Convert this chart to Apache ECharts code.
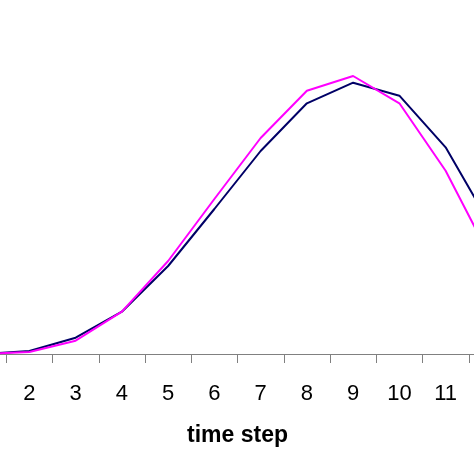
<!DOCTYPE html>
<html>
<head>
<meta charset="utf-8">
<script src="https://cdn.jsdelivr.net/npm/echarts@6/dist/echarts.min.js"></script>
<style>
html,body{margin:0;padding:0;background:#fff;overflow:hidden;width:474px;height:474px;}
#wrap{position:relative;width:474px;height:474px;overflow:hidden;}
#c{position:absolute;left:-40px;top:0;width:555px;height:474px;}
</style>
</head>
<body>
<div id="wrap"><div id="c"></div></div>
<script>
var categories = ['1','2','3','4','5','6','7','8','9','10','11','12'];
var seriesNavy = [0, 3, 16.3, 42.3, 88, 145, 203, 250.7, 271.3, 258.3, 206.7, 126.5];
var seriesMagenta = [0, 2, 13.3, 42.3, 93, 155, 216, 263.3, 278, 250.7, 183.3, 93.7];

var chart = echarts.init(document.getElementById('c'));
chart.setOption({
  backgroundColor: '#ffffff',
  animation: false,
  grid: { left: 0, right: 0, top: 0, bottom: 120, containLabel: false },
  xAxis: {
    type: 'category',
    data: categories,
    boundaryGap: true,
    name: 'time step',
    nameLocation: 'middle',
    nameGap: 70,
    nameTextStyle: { fontFamily: 'Liberation Sans, Arial, sans-serif', fontSize: 23, fontWeight: 'bold', color: '#000' },
    axisLine: { lineStyle: { color: '#808080', width: 1 } },
    axisTick: { show: true, length: 9, lineStyle: { color: '#808080' } },
    axisLabel: { fontFamily: 'Liberation Sans, Arial, sans-serif', fontSize: 22, color: '#000', margin: 29 }
  },
  yAxis: {
    type: 'value', min: 0, max: 354,
    show: false,
    splitLine: { show: false }
  },
  series: [
    { type: 'line', data: seriesNavy, symbol: 'none', lineStyle: { color: '#000066', width: 2 }, itemStyle: { color: '#000066' } },
    { type: 'line', data: seriesMagenta, symbol: 'none', lineStyle: { color: '#ff00ff', width: 2 }, itemStyle: { color: '#ff00ff' } }
  ]
});
</script>
</body>
</html>
